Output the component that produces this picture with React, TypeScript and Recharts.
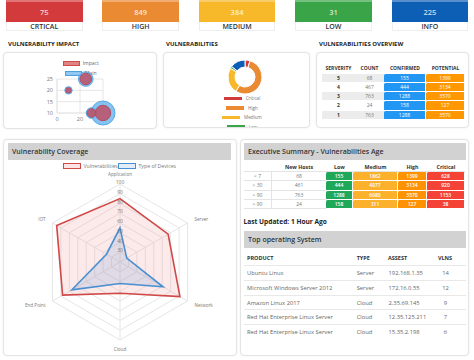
import React from 'react'
import {
  ScatterChart,
  Scatter,
  XAxis,
  YAxis,
  ZAxis,
  CartesianGrid,
  PieChart,
  Pie,
  Cell,
  RadarChart,
  Radar,
  PolarGrid,
  PolarAngleAxis,
  PolarRadiusAxis,
} from 'recharts'

// top cards / donut
const severityLabels = ['CRTICAL', 'HIGH', 'MEDIUM', 'LOW', 'INFO']
const severityNames = ['Critical', 'High', 'Medium', 'Low', 'Info']
const severityCounts = [75, 849, 384, 31, 225]
const severityColors = ['#d33a3b', '#ea8a33', '#f7b92a', '#39a548', '#0d5fb6']

// bubble chart
const bubbleX = [10, 25, 30, 40]
const bubbleY = [20, 25, 10, 10]
const impactSize = [2.7, 5.8, 4.3, 7.7]
const mainSize = [3.7, 7.3, 5.3, 12]

// severity overview
const sevLevels = ['5', '4', '3', '2', '1']
const sevCount = [68, 467, 763, 24, 763]
const sevConfirmed = [155, 444, 1288, 158, 1288]
const sevPotential = [1399, 3134, 3570, 127, 3570]

// radar
const radarAxes = ['Application', 'Server', 'Network', 'Cloud', 'End Point', 'IOT']
const vulnerabilities = [85, 77, 91, 52, 88, 95]
const typeOfDevices = [55, 28, 71, 42, 77, 36]

// vulnerabilities age
const ageBuckets = ['< 7', '< 30', '< 90', '> 90']
const ageNewHosts = [68, 461, 763, 24]
const ageLow = [155, 444, 1288, 158]
const ageMedium = [1862, 4077, 6680, 311]
const ageHigh = [1399, 3134, 3570, 127]
const ageCritical = [628, 920, 1153, 38]

// operating systems
const osProducts = [
  'Ubuntu Linux',
  'Microsoft Windows Server 2012',
  'Amazon Linux 2017',
  'Red Hat Enterprise Linux Server',
  'Red Hat Enterprise Linux Server',
]
const osTypes = ['Server', 'Server', 'Cloud', 'Cloud', 'Cloud']
const osAssets = ['192.168.1.35', '172.16.0.55', '2.35.69.145', '12.35.125.211', '15.35.2.198']
const osVulns = [14, 12, 9, 7, 6]

const FONT = '"Open Sans", "Noto Sans", sans-serif'

const abs = (left: number, top: number, width?: number, height?: number): React.CSSProperties => ({
  position: 'absolute',
  left,
  top,
  width,
  height,
})

const panel: React.CSSProperties = {
  border: '1px solid #e4e4e4',
  borderRadius: 4,
  boxShadow: '0 0 2px rgba(0,0,0,0.08)',
  background: '#fff',
  boxSizing: 'border-box',
}

const grayHeader: React.CSSProperties = {
  background: '#d2d2d2',
  color: '#333',
  fontSize: 7,
  fontWeight: 600,
  paddingLeft: 4.5,
  boxSizing: 'border-box',
  display: 'flex',
  alignItems: 'center',
}

const bubbleImpact = bubbleX.map((x, i) => ({ x, y: bubbleY[i], r: impactSize[i] }))
const bubbleMain = bubbleX.map((x, i) => ({ x, y: bubbleY[i], r: mainSize[i] }))
const donutData = severityNames.map((name, i) => ({ name, value: severityCounts[i] }))
const radarData = radarAxes.map((axis, i) => ({
  axis,
  vulnerabilities: vulnerabilities[i],
  devices: typeOfDevices[i],
}))

// eslint-disable-next-line @typescript-eslint/no-explicit-any
const bubbleShape = (fill: string, stroke: string) => (props: any) => {
  const r = typeof props.size === 'number' ? props.size : props.payload.r
  return <circle cx={props.cx} cy={props.cy} r={r} fill={fill} stroke={stroke} strokeWidth={1} />
}

const TopCards = () => (
  <>
    {severityLabels.map((label, i) => {
      const left = 6 + i * 96.4
      return (
        <div key={label} style={abs(left, 0, 76.5, 31)}>
          <div
            style={{
              ...abs(0, 0, 76.5, 22.3),
              background: severityColors[i],
              color: 'rgba(255,255,255,0.78)',
              fontSize: 7.5,
              fontWeight: 600,
              textAlign: 'center',
              lineHeight: '25px',
            }}
          >
            <div style={{ ...abs(0, 0, 76.5, 2), background: 'rgba(255,255,255,0.3)' }} />
            {severityCounts[i]}
          </div>
          <div
            style={{
              ...abs(0, 22.3, 76.5, 8.7),
              border: '1px solid #eee',
              borderTop: 'none',
              boxSizing: 'border-box',
              fontSize: 7,
              fontWeight: 600,
              color: '#333',
              textAlign: 'center',
              lineHeight: '9px',
            }}
          >
            {label}
          </div>
        </div>
      )
    })}
  </>
)

const SectionTitle = ({ left, text }: { left: number; text: string }) => (
  <div style={{ ...abs(left, 39, 160, 10), fontSize: 6, fontWeight: 700, color: '#222', lineHeight: '10px' }}>
    {text}
  </div>
)

const BubblePanel = () => (
  <>
    <div style={{ ...abs(3, 52, 153.5, 77), ...panel }} />
    <div style={{ ...abs(62.7, 60.7, 17.3, 5), background: 'rgba(214,90,90,0.75)', border: '1px solid #d04a4a', boxSizing: 'border-box' }} />
    <div style={{ ...abs(82.7, 59.2, 40, 8), fontSize: 5, color: '#666', lineHeight: '8px' }}>Impact</div>
    <div style={{ ...abs(65, 70.5, 17, 5), background: 'rgba(100,175,235,0.7)', border: '1px solid #4aa0e0', boxSizing: 'border-box' }} />
    <div style={{ ...abs(85, 69, 40, 8), fontSize: 5, color: '#666', lineHeight: '8px' }}>Main</div>
    <div style={abs(35, 56, 90, 70)}>
      <ScatterChart width={90} height={70} margin={{ top: 23, right: 22, bottom: 0, left: 0 }}>
        <CartesianGrid stroke="#e6e6e6" />
        <XAxis
          type="number"
          dataKey="x"
          domain={[0, 40]}
          ticks={[0, 20, 40]}
          interval={0}
          tickFormatter={(v: number) => (v === 40 ? '' : String(v))}
          height={13}
          stroke="#e6e6e6"
          tickLine={false}
          tickSize={0}
          tick={{ fontSize: 5.5, fill: '#777' }}
          tickMargin={4}
        />
        <YAxis
          type="number"
          dataKey="y"
          domain={[10, 25]}
          ticks={[10, 15, 20, 25]}
          interval={0}
          width={22}
          stroke="#e6e6e6"
          tickLine={false}
          tickSize={0}
          tick={{ fontSize: 5.5, fill: '#777' }}
          tickMargin={4}
        />
        <ZAxis type="number" dataKey="r" domain={[0, 12]} range={[0, 12]} />
        <Scatter data={bubbleMain} isAnimationActive={false} shape={bubbleShape('rgba(95,175,235,0.75)', '#58aae6')} />
        <Scatter data={bubbleImpact} isAnimationActive={false} shape={bubbleShape('rgba(190,80,100,0.85)', '#b14d66')} />
      </ScatterChart>
    </div>
  </>
)

const DonutPanel = () => (
  <>
    <div style={{ ...abs(163, 52, 147, 76), ...panel, overflow: 'hidden' }}>
      {severityNames.slice(0, 4).map((name, i) => (
        <div
          key={name}
          style={{
            ...abs(0, 42 + i * 9.5, 156, 7),
            display: 'flex',
            justifyContent: 'center',
            alignItems: 'center',
            gap: 4,
            fontSize: 4.6,
            color: '#777',
            lineHeight: '7px',
          }}
        >
          <div style={{ width: 18, height: 3.6, background: severityColors[i] }} />
          <span>{name}</span>
        </div>
      ))}
    </div>
    <div style={abs(163, 52, 147, 45)}>
      <PieChart width={147} height={45}>
        <Pie
          data={donutData}
          dataKey="value"
          cx={77}
          cy={20}
          innerRadius={10}
          outerRadius={17}
          startAngle={90}
          endAngle={-270}
          stroke="#fff"
          strokeWidth={1}
          isAnimationActive={false}
        >
          {donutData.map((d, i) => (
            <Cell key={d.name} fill={severityColors[i]} />
          ))}
        </Pie>
      </PieChart>
    </div>
  </>
)

const ovCols = [322, 355, 384, 426]
const ovWidths = [33, 29, 42, 39]
const ovHeaders = ['SERVERITY', 'COUNT', 'CONFIRMED', 'POTENTIAL']

const OverviewPanel = () => (
  <>
    <div style={{ ...abs(315.5, 52, 153.5, 76), ...panel }} />
    {ovHeaders.map((h, c) => (
      <div
        key={h}
        style={{
          ...abs(ovCols[c], 64, ovWidths[c], 9.4),
          fontSize: 5,
          fontWeight: 700,
          color: '#333',
          textAlign: 'center',
          lineHeight: '9.4px',
        }}
      >
        {h}
      </div>
    ))}
    {sevLevels.map((lvl, r) => {
      const top = 73.6 + r * 9.25
      const stripe = r % 2 === 0 ? '#ececec' : '#fff'
      const cells = [lvl, sevCount[r], sevConfirmed[r], sevPotential[r]]
      return cells.map((v, c) => {
        const bg = c === 2 ? '#2196f3' : c === 3 ? '#ff9800' : stripe
        return (
          <div
            key={`${r}-${c}`}
            style={{
              ...abs(ovCols[c], top, ovWidths[c], 9.25),
              background: bg,
              borderBottom: '1px solid #fff',
              borderRight: c >= 2 ? '1px solid #fff' : undefined,
              borderRadius: c >= 2 ? 1.5 : 0,
              boxSizing: 'border-box',
              fontSize: 5,
              fontWeight: c === 0 ? 700 : 400,
              color: c >= 2 ? '#fff' : c === 1 ? '#777' : '#333',
              textAlign: 'center',
              lineHeight: '8.5px',
            }}
          >
            {v}
          </div>
        )
      })
    })}
  </>
)

const RadarPanel = () => (
  <>
    <div style={{ ...abs(3, 139, 234, 217), ...panel }} />
    <div style={{ ...abs(7.5, 143, 223, 16.5), ...grayHeader }}>Vulnerability Coverage</div>
    <div style={{ ...abs(63, 163, 18, 6), background: 'rgba(240,150,150,0.25)', border: '1.5px solid #d04848', boxSizing: 'border-box' }} />
    <div style={{ ...abs(83.5, 162, 40, 8), fontSize: 5.2, color: '#777', lineHeight: '8px' }}>Vulnerabilities</div>
    <div style={{ ...abs(118, 163, 18, 6), background: 'rgba(74,144,208,0.15)', border: '1.5px solid #4a90d0', boxSizing: 'border-box' }} />
    <div style={{ ...abs(138.5, 162, 50, 8), fontSize: 5.2, color: '#777', lineHeight: '8px' }}>Type of Devices</div>
    <div style={abs(3, 160, 234, 196)}>
      <RadarChart width={234} height={196} cx={117} cy={102} outerRadius={78} data={radarData}>
        <PolarGrid gridType="polygon" stroke="#e6e6e6" />
        <PolarAngleAxis dataKey="axis" tick={{ fontSize: 4.6, fill: '#777' }} tickLine={false} />
        <PolarRadiusAxis
          angle={90}
          domain={[20, 100]}
          tickCount={9}
          axisLine={false}
          orientation="middle"
          tick={{ fontSize: 5, fill: '#777' }}
          tickFormatter={(v: number) => (v === 20 ? '' : String(v))}
        />
        <Radar
          name="Vulnerabilities"
          dataKey="vulnerabilities"
          stroke="#d04848"
          strokeWidth={1.6}
          fill="#f29a9a"
          fillOpacity={0.22}
          isAnimationActive={false}
        />
        <Radar
          name="Type of Devices"
          dataKey="devices"
          stroke="#4a8fd0"
          strokeWidth={1.6}
          fill="#7aa6d6"
          fillOpacity={0.22}
          isAnimationActive={false}
        />
      </RadarChart>
    </div>
  </>
)

const exCols = [244, 272, 326, 353, 398, 427]
const exWidths = [28, 54, 27, 45, 29, 38]
const exHeaders = ['', 'New Hosts', 'Low', 'Medium', 'High', 'Critical']
const exColors = ['', '', '#1fa85a', '#fbb12b', '#ff9200', '#f44336']

const AgePanel = () => (
  <>
    <div style={{ ...abs(240, 139, 229, 217), ...panel }} />
    <div style={{ ...abs(243.5, 143, 222.5, 16.5), ...grayHeader }}>Executive Summary - Vulnerabilities Age</div>
    {exHeaders.map((h, c) => (
      <div
        key={c}
        style={{
          ...abs(exCols[c], 163, exWidths[c], 9),
          fontSize: 5.3,
          fontWeight: 700,
          color: '#333',
          textAlign: 'center',
          lineHeight: '9px',
          borderBottom: '1px solid #e4e4e4',
          boxSizing: 'border-box',
        }}
      >
        {h}
      </div>
    ))}
    {ageBuckets.map((b, r) => {
      const top = 172 + r * 9.3
      const cells = [b, ageNewHosts[r], ageLow[r], ageMedium[r], ageHigh[r], ageCritical[r]]
      return cells.map((v, c) => (
        <div
          key={`${r}-${c}`}
          style={{
            ...abs(exCols[c], top, exWidths[c], 9.3),
            background: c >= 2 ? exColors[c] : '#fff',
            borderBottom: c >= 2 ? '1px solid #fff' : '1px solid #e4e4e4',
            borderRight: c === 0 ? '1px solid #e4e4e4' : c >= 2 ? '1px solid #fff' : undefined,
            borderRadius: c >= 2 ? 1.5 : 0,
            boxSizing: 'border-box',
            fontSize: 5,
            fontWeight: c >= 2 ? 600 : 400,
            color: c >= 2 ? '#fff' : '#777',
            textAlign: 'center',
            lineHeight: '8.5px',
          }}
        >
          {v}
        </div>
      ))
    })}
    <div style={{ ...abs(243.5, 216, 200, 12), fontSize: 6.6, fontWeight: 700, color: '#222', lineHeight: '12px' }}>
      Last Updated: 1 Hour Ago
    </div>
    <div style={{ ...abs(243.5, 230.5, 222.5, 17.5), ...grayHeader }}>Top operating System</div>
    {[
      { text: 'PRODUCT', left: 247 },
      { text: 'TYPE', left: 356.7 },
      { text: 'ASSEST', left: 388 },
    ].map((h) => (
      <div key={h.text} style={{ ...abs(h.left, 253, 60, 11), fontSize: 5.5, fontWeight: 700, color: '#333', lineHeight: '11px' }}>
        {h.text}
      </div>
    ))}
    <div style={{ ...abs(430, 253, 30, 11), fontSize: 5.5, fontWeight: 700, color: '#333', lineHeight: '11px', textAlign: 'center' }}>
      VLNS
    </div>
    {osProducts.map((p, r) => {
      const top = 265 + r * 14.8
      return (
        <div key={r} style={{ ...abs(243.5, top, 222.5, 14.8), borderTop: '1px solid #e8e8e8', boxSizing: 'border-box' }}>
          {[
            { text: p, left: 3.5 },
            { text: osTypes[r], left: 113.2 },
            { text: osAssets[r], left: 145 },
          ].map((c, k) => (
            <div key={k} style={{ ...abs(c.left, 0, 110, 14), fontSize: 5.8, color: '#666', lineHeight: '14px', whiteSpace: 'nowrap' }}>
              {c.text}
            </div>
          ))}
          <div style={{ ...abs(190, 0, 24, 14), fontSize: 5.8, color: '#666', lineHeight: '14px', textAlign: 'center' }}>
            {osVulns[r]}
          </div>
        </div>
      )
    })}
  </>
)

export default function App() {
  return (
    <div
      style={{
        position: 'relative',
        width: 474,
        height: 360,
        overflow: 'hidden',
        background: '#fff',
        fontFamily: FONT,
      }}
    >
      <style>{'body{margin:0}'}</style>
      <TopCards />
      <SectionTitle left={8} text="VULNERABILITY IMPACT" />
      <SectionTitle left={166} text="VULNERABILITIES" />
      <SectionTitle left={319} text="VULNERABILITIES OVERVIEW" />
      <BubblePanel />
      <DonutPanel />
      <OverviewPanel />
      <RadarPanel />
      <AgePanel />
    </div>
  )
}
